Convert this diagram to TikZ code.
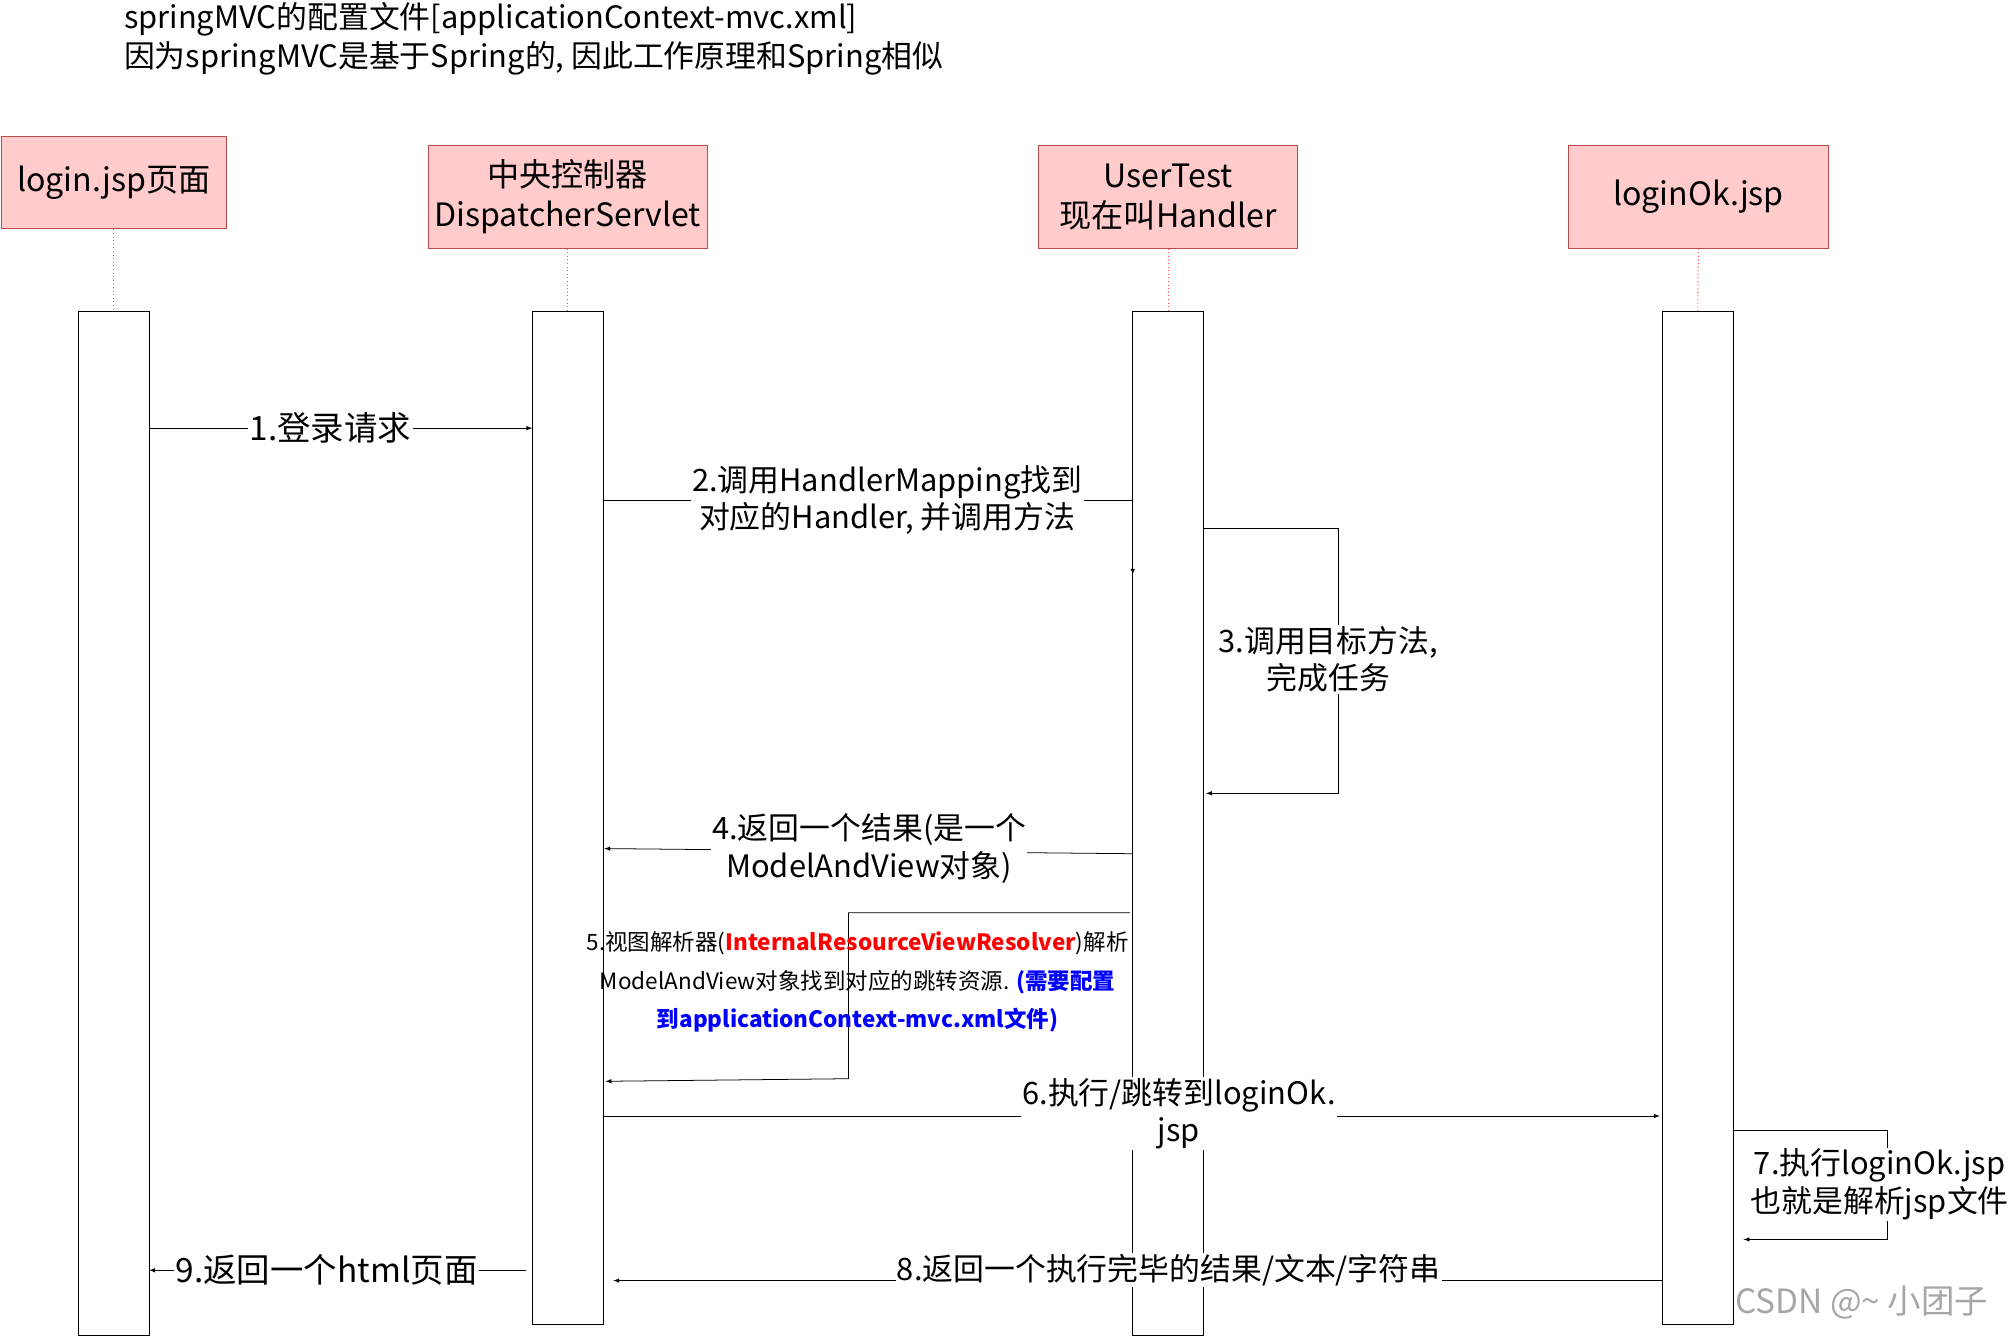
\documentclass[tikz,border=0pt]{standalone}
\usepackage{fontspec}
\setmainfont{Noto Sans CJK SC}
\begin{document}
\begin{tikzpicture}[x=1pt,y=-1pt,
  hdr/.style={draw=red!60!black!70,fill=red!20!white!90!pink,line width=0.8pt,inner sep=0,align=center,font=\fontsize{25}{31}\selectfont},
  life/.style={draw=black,fill=white,line width=0.6pt},
  dots/.style={draw=red!70,dotted,line width=0.8pt},
  msg/.style={-latex,line width=0.6pt},
  lbl/.style={fill=white,inner sep=1pt,align=center,font=\fontsize{24}{29}\selectfont}]
\useasboundingbox (0,0) rectangle (1568,1040);
\node[anchor=west,align=left,font=\fontsize{24}{30}\selectfont] (title) at (93,30) {springMVC的配置文件[applicationContext-mvc.xml]\\因为springMVC是基于Spring的, 因此工作原理和Spring相似};
\node[hdr,minimum width=175pt,minimum height=72pt] (h1) at (88.5,142) {login.jsp页面};
\node[hdr,minimum width=217pt,minimum height=80pt] (h2) at (441.5,153) {中央控制器\\DispatcherServlet};
\node[hdr,minimum width=201pt,minimum height=80pt] (h3) at (908.5,153) {UserTest\\现在叫Handler};
\node[hdr,minimum width=202pt,minimum height=80pt] (h4) at (1321,153) {loginOk.jsp};
\node[life,minimum width=55pt,minimum height=796pt,inner sep=0,anchor=north] (l1) at (88.5,242) {};
\node[life,minimum width=55pt,minimum height=788pt,inner sep=0,anchor=north] (l2) at (441.5,242) {};
\node[life,minimum width=55pt,minimum height=796pt,inner sep=0,anchor=north] (l3) at (908.5,242) {};
\node[life,minimum width=55pt,minimum height=788pt,inner sep=0,anchor=north] (l4) at (1320.5,242) {};
\foreach \a/\b in {h1/l1,h2/l2,h3/l3,h4/l4} \draw[dots] (\a.south) -- (\b.north);
% 1
\coordinate (a1) at (116,333); \coordinate (b1) at (414,333);
\draw[msg] (a1) -- (b1);
\node[lbl,font=\fontsize{26}{30}\selectfont] (t1) at (257,333) {1.登录请求};
% 2
\coordinate (a2) at (469,389); \coordinate (m2) at (881,389); \coordinate (b2) at (881,447);
\draw[msg] (a2) -- (m2) -- (b2);
\node[lbl] (t2) at (690,389) {2.调用HandlerMapping找到\\对应的Handler, 并调用方法};
% 3
\coordinate (a3) at (936,411); \coordinate (c3) at (1041,411); \coordinate (d3) at (1041,617); \coordinate (b3) at (938,617);
\draw[msg] (a3) -- (c3) -- (d3) -- (b3);
\node[lbl] (t3) at (1033,513) {3.调用目标方法,\\完成任务};
% 4
\coordinate (a4) at (881,664); \coordinate (b4) at (470,660);
\draw[msg] (a4) -- (b4);
\node[lbl] (t4) at (676,660) {4.返回一个结果(是一个\\ModelAndView对象)};
% 5
\coordinate (a5) at (879,710); \coordinate (c5) at (660,710); \coordinate (d5) at (660,839); \coordinate (b5) at (471,841);
\draw[msg] (a5) -- (c5) -- (d5) -- (b5);
\node[inner sep=0,align=center,font=\fontsize{17.5}{30}\selectfont] (t5) at (667,764) {5.视图解析器(\textcolor{red}{\bfseries InternalResourceViewResolver})解析\\ModelAndView对象找到对应的跳转资源. \textcolor{blue}{\bfseries (需要配置}\\\textcolor{blue}{\bfseries 到applicationContext-mvc.xml文件)}};
% 6
\coordinate (a6) at (469,868); \coordinate (b6) at (1291,868);
\draw[msg] (a6) -- (b6);
\node[lbl] (t6) at (917,866) {6.执行/跳转到loginOk.\\jsp};
% 7
\coordinate (a7) at (1348,879); \coordinate (c7) at (1468,879); \coordinate (d7) at (1468,964); \coordinate (b7) at (1356,964);
\draw[msg] (a7) -- (c7) -- (d7) -- (b7);
\node[lbl] (t7) at (1462,921) {7.执行loginOk.jsp\\也就是解析jsp文件};
% 8
\coordinate (a8) at (1293,996); \coordinate (b8) at (477,996);
\draw[msg] (a8) -- (b8);
\node[lbl] (t8) at (909,988) {8.返回一个执行完毕的结果/文本/字符串};
% 9
\coordinate (a9) at (409,988); \coordinate (b9) at (116,988);
\draw[msg] (a9) -- (b9);
\node[lbl,font=\fontsize{26}{30}\selectfont] (t9) at (254,988) {9.返回一个html页面};
\node[text=black!35,font=\fontsize{26}{30}\selectfont,inner sep=0] (wm) at (1448,1013) {CSDN @\textasciitilde{} 小团子};
\end{tikzpicture}
\end{document}
